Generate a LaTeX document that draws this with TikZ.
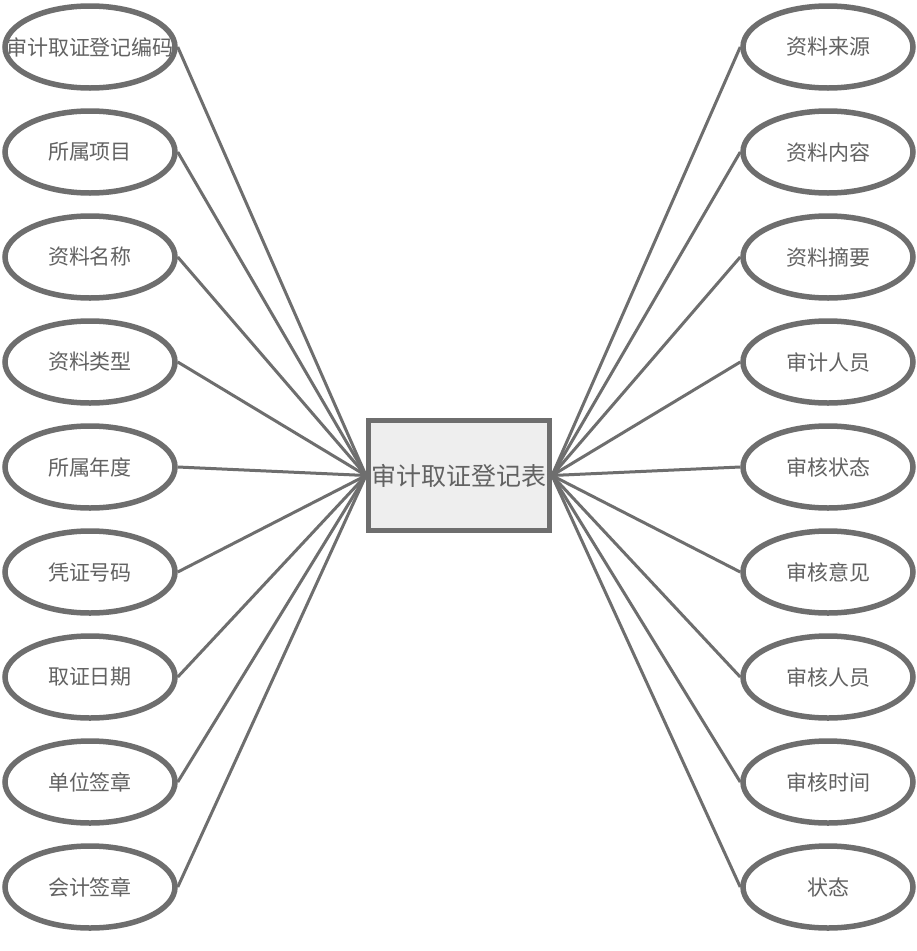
\documentclass[tikz,border=0pt]{standalone}
\usepackage{fontspec}
\setmainfont{Noto Sans CJK SC}
\usetikzlibrary{shapes.geometric}
\definecolor{linegray}{HTML}{6E6E6E}
\definecolor{txtgray}{HTML}{626262}
\definecolor{boxfill}{HTML}{EEEEEE}
\begin{document}
\begin{tikzpicture}[x=1pt,y=-1pt,
  ell/.style={ellipse,draw=linegray,line width=5.5pt,minimum width=170pt,minimum height=82pt,inner sep=0pt},
  etxt/.style={text=txtgray,font=\fontsize{21}{25}\selectfont,inner sep=0pt},
  mainbox/.style={rectangle,draw=linegray,fill=boxfill,line width=5pt,minimum width=181pt,minimum height=110pt,inner sep=0pt,text=txtgray,font=\fontsize{25}{29}\selectfont},
  conn/.style={draw=linegray,line width=3pt}]
\useasboundingbox (0,0) rectangle (917,951);
\fill[white] (0,0) rectangle (917,951);
\node[mainbox] (m) at (459,475.5) {审计取证登记表};
% left
\foreach \i/\t in {0/审计取证登记编码,1/所属项目,2/资料名称,3/资料类型,4/所属年度,5/凭证号码,6/取证日期,7/单位签章,8/会计签章}{
  \node[etxt] (lt\i) at (90,{47+105*\i}) {\t};
  \node[ell] (l\i) at (90,{47+105*\i}) {};
  \draw[conn] (l\i.east) -- (m.west);
}
% right
\foreach \i/\t in {0/资料来源,1/资料内容,2/资料摘要,3/审计人员,4/审核状态,5/审核意见,6/审核人员,7/审核时间,8/状态}{
  \node[etxt] (rt\i) at (828,{47+105*\i}) {\t};
  \node[ell] (r\i) at (828,{47+105*\i}) {};
  \draw[conn] (r\i.west) -- (m.east);
}
\end{tikzpicture}
\end{document}
